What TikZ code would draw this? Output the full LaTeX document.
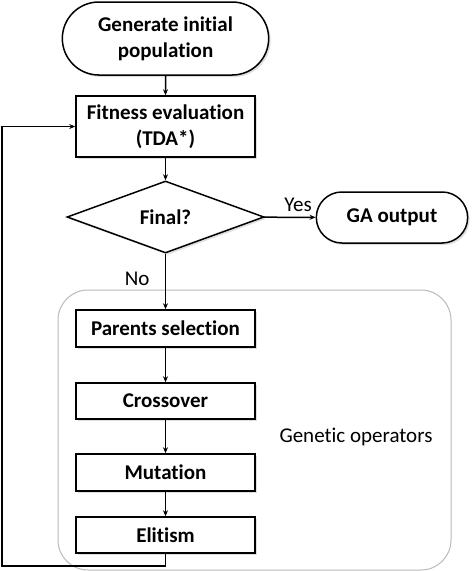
\documentclass[tikz,border=0pt]{standalone}
\usepackage{fontspec}
\setmainfont[Ligatures = NoCommon]{Carlito}
\usetikzlibrary{arrows.meta, shapes.geometric, shapes.misc, shadows}

\begin{document}
\begin{tikzpicture}[x = 1pt, y = -1pt, font = \fontsize{21}{26}\selectfont,
	box/.style = {draw, line width = 1.5pt, fill = white, align = center, font = \fontsize{21}{26}\selectfont\bfseries, minimum width = 179pt, drop shadow = {shadow xshift = 2pt, shadow yshift = -2pt, opacity = .25}},
	term/.style = {box, rounded rectangle},
	flow/.style = {line width = 1.5pt, -{Stealth[length = 6pt, width = 5pt]}}]
	\useasboundingbox (0, 0) rectangle (474, 571);
	\draw [gray!55, line width = 1pt, rounded corners = 30pt] (58, 290) rectangle (451, 570);
	\node [term, minimum width = 213pt, minimum height = 73pt] (g) at (165.5, 38.5) {Generate initial\\population};
	\node [box, minimum height = 61pt] (f) at (165.5, 126.5) {Fitness evaluation\\(TDA*)};
	\node [box, diamond, aspect = 2.7, minimum width = 197pt, minimum height = 72pt, inner sep = 0pt] (d) at (165.5, 217) {Final?};
	\node [term, minimum width = 158pt, minimum height = 51pt] (o) at (392, 217.5) {GA output};
	\node [box, minimum height = 37pt] (p) at (165.5, 328.5) {Parents selection};
	\node [box, minimum height = 36pt] (c) at (165.5, 401) {Crossover};
	\node [box, minimum height = 37pt] (m) at (165.5, 472.5) {Mutation};
	\node [box, minimum height = 36pt] (e) at (165.5, 535) {Elitism};
	\node (ops) at (356, 437) {Genetic operators};
	\draw [flow] (d) -- node [above, pos = .66, yshift = 2pt] (yes) {Yes} (o);
	\draw [flow] (g) -- (f);
	\draw [flow] (f) -- (d);
	\draw [flow] (d) -- node [left, pos = .45, xshift = -12pt] (no) {No} (p);
	\draw [flow] (p) -- (c);
	\draw [flow] (c) -- (m);
	\draw [flow] (m) -- (e);
	\coordinate (l) at (2, 566);
	\draw [flow, line width = 1.8pt] (e.south) -- (e.south |- l) -- (l) |- (f.west);
\end{tikzpicture}
\end{document}
